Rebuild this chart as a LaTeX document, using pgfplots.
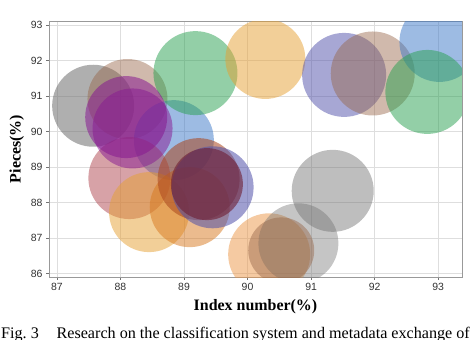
\documentclass[border=0pt]{standalone}
\usepackage{fontspec}
\setmainfont{Liberation Serif}
\setsansfont{Liberation Sans}
\usepackage{pgfplots}
\pgfplotsset{compat=1.18}

\definecolor{cgray}{RGB}{110,110,110}
\definecolor{ctan}{RGB}{150,100,70}
\definecolor{cpurple}{RGB}{135,25,145}
\definecolor{cgreen}{RGB}{40,160,80}
\definecolor{cwheat}{RGB}{230,160,50}
\definecolor{cperi}{RGB}{80,80,170}
\definecolor{cblue}{RGB}{60,120,200}
\definecolor{cpink}{RGB}{175,70,80}
\definecolor{corange}{RGB}{215,120,30}
\definecolor{csienna}{RGB}{170,70,30}
\definecolor{cmaroon}{RGB}{110,30,50}
\definecolor{cpeach}{RGB}{235,150,70}

% one bubble: x, y, radius (bp), colour, opacity
\newcommand{\bubble}[5]{%
  \addplot[only marks, mark=*, mark size=#3bp, color=#4,
    mark options={draw opacity=0, fill=#4, fill opacity=#5}]
    coordinates {(#1,#2)};}

\begin{document}
\begin{tikzpicture}
\useasboundingbox (-49bp,-63bp) rectangle (425bp,277bp);
\begin{axis}[
  at={(0,0)}, anchor=south west,
  scale only axis, width=413bp, height=256bp,
  xmin=86.875, xmax=93.375, ymin=85.9, ymax=93.12,
  xtick={87,88,...,93}, ytick={86,87,...,93},
  grid=major, major grid style={draw=black!13, line width=0.5pt},
  axis line style={draw=black!40, line width=0.8pt},
  tick style={draw=black!55, line width=0.5pt},
  tick align=outside, tickpos=left, major tick length=3pt,
  ticklabel style={font=\sffamily\fontsize{10.5}{12}\selectfont, text=black!80},
  /pgf/number format/assume math mode=true,
  xlabel={Index number(\%)}, ylabel={Pieces(\%)},
  label style={font=\bfseries\fontsize{16}{18}\selectfont},
  xlabel style={yshift=-2bp},
  clip marker paths=true,
]
\bubble{87.57}{90.73}{41}{cgray}{0.55}
\bubble{88.11}{90.92}{40}{ctan}{0.45}
\bubble{88.84}{89.76}{40}{cblue}{0.5}
\bubble{89.18}{91.65}{42}{cgreen}{0.5}
\bubble{88.14}{88.69}{41}{cpink}{0.5}
\bubble{88.09}{90.41}{41}{cpurple}{0.55}
\bubble{88.19}{90.09}{40}{cpurple}{0.5}
\bubble{88.45}{87.73}{40}{cwheat}{0.5}
\bubble{89.09}{87.87}{40}{corange}{0.5}
\bubble{89.23}{88.66}{41}{csienna}{0.55}
\bubble{89.45}{88.43}{41}{cperi}{0.55}
\bubble{89.36}{88.52}{36}{cmaroon}{0.6}
\bubble{90.28}{92.05}{40}{cwheat}{0.5}
\bubble{91.52}{91.60}{42}{cperi}{0.5}
\bubble{91.97}{91.64}{42}{ctan}{0.45}
\bubble{93.02}{92.53}{40}{cblue}{0.5}
\bubble{92.83}{91.12}{42}{cgreen}{0.5}
\bubble{91.34}{88.33}{41}{cgray}{0.45}
\bubble{90.34}{86.54}{41}{cpeach}{0.5}
\bubble{90.80}{86.85}{40}{cgray}{0.4}
\bubble{90.53}{86.65}{33}{ctan}{0.45}
\end{axis}
\node[anchor=base west, font=\fontsize{16.2}{18}\selectfont, inner sep=0pt]
  at (-48bp,-61bp) {Fig.\ 3\hspace{1.1em}Research on the classification system and metadata exchange of};
\end{tikzpicture}
\end{document}
